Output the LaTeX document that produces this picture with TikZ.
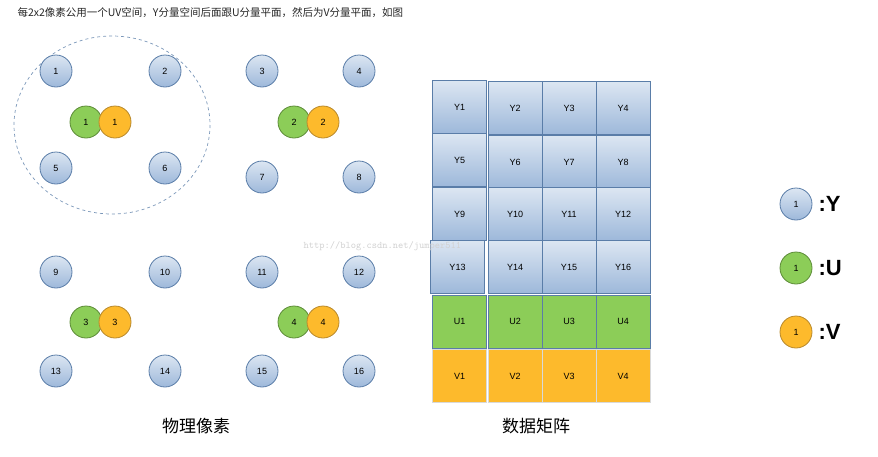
\documentclass[tikz,border=0pt]{standalone}
\usepackage{fontspec}
\setmainfont{Liberation Sans}
\newfontfamily\cjk{Noto Sans CJK SC}
\begin{document}
\begin{tikzpicture}[x=1pt,y=-1pt,
 yc/.style={circle,minimum size=32pt,inner sep=0pt,draw=bordc,line width=0.8pt,top color=ytop,bottom color=ybot,font=\fontsize{9}{10}\selectfont},
 uc/.style={yc,draw=ubord,fill=ucol,top color=ucol,bottom color=ucol},
 vc/.style={yc,draw=vbord,fill=vcol,top color=vcol,bottom color=vcol},
 cell/.style={rectangle,draw=bordc,line width=0.8pt,minimum width=54pt,minimum height=53pt,inner sep=0pt,font=\fontsize{9}{10}\selectfont},
 ycell/.style={cell,top color=ytop,bottom color=ybot},
 ucell/.style={cell,fill=ucol},
 vcell/.style={cell,fill=vcol,draw=white!70!gray},
 leg/.style={font=\fontsize{22}{24}\selectfont\bfseries,anchor=west}]
\definecolor{ytop}{HTML}{DCE6F2}
\definecolor{ybot}{HTML}{9DB8DA}
\definecolor{bordc}{HTML}{5A7DA8}
\definecolor{ucol}{HTML}{8CCD58}
\definecolor{ubord}{HTML}{5E8C3A}
\definecolor{vcol}{HTML}{FDBA2C}
\definecolor{vbord}{HTML}{B88A30}
\useasboundingbox (0,0) rectangle (878,456);
\node[anchor=west,font=\cjk\fontsize{10.5}{12}\selectfont,text=black!85] (title) at (14,13) {每2x2像素公用一个UV空间，Y分量空间后面跟U分量平面，然后为V分量平面，如图};
\draw[dashed,draw=bordc!80,line width=0.7pt] (112,125) ellipse [x radius=98,y radius=89];
\foreach \n/\x/\y in {1/56/71,2/165/71,5/56/168,6/165/168,3/262/71,4/359/71,7/262/177,8/359/177,
 9/56/272,10/165/272,13/56/371,14/165/371,11/262/272,12/359/272,15/262/371,16/359/371}
 \node[yc] (p\n) at (\x,\y) {\n};
\foreach \n/\x/\y in {1/86/122,2/294/122,3/86/322,4/294/322}{
 \node[uc] (u\n) at (\x,\y) {\n};
 \node[vc] (v\n) at (\x+29,\y) {\n};}
\node[ycell,minimum width=54pt] (Y1) at (459.5,107) {Y1};
\node[ycell] (Y2) at (515,108) {Y2};
\node[ycell] (Y3) at (569,108) {Y3};
\node[ycell] (Y4) at (623,108) {Y4};
\node[ycell] (Y5) at (459.5,160) {Y5};
\node[ycell] (Y6) at (515,162) {Y6};
\node[ycell] (Y7) at (569,162) {Y7};
\node[ycell] (Y8) at (623,162) {Y8};
\node[ycell] (Y9) at (459.5,214) {Y9};
\node[ycell] (Y10) at (515,214) {Y10};
\node[ycell] (Y11) at (569,214) {Y11};
\node[ycell] (Y12) at (623,214) {Y12};
\node[ycell] (Y13) at (457.5,267) {Y13};
\node[ycell] (Y14) at (515,267) {Y14};
\node[ycell] (Y15) at (569,267) {Y15};
\node[ycell] (Y16) at (623,267) {Y16};
\foreach \i/\x in {1/459.5,2/515,3/569,4/623}{
 \node[ucell] (U\i) at (\x,321.5) {U\i};
 \node[vcell] (V\i) at (\x,376) {V\i};}
\node[font=\ttfamily\fontsize{10}{11}\selectfont,text=black!18,anchor=west] (wm) at (300,246) {http://blog.csdn.net/jumper511};
\node[yc] (ly) at (796,204) {1};
\node[uc] (lu) at (796,268) {1};
\node[vc] (lv) at (796,332) {1};
\node[leg] (ty) at (815,204) {:Y};
\node[leg] (tu) at (815,268) {:U};
\node[leg] (tv) at (815,332) {:V};
\node[font=\cjk\fontsize{17}{19}\selectfont] (c1) at (196,426) {物理像素};
\node[font=\cjk\fontsize{17}{19}\selectfont] (c2) at (536,426) {数据矩阵};
\end{tikzpicture}
\end{document}
